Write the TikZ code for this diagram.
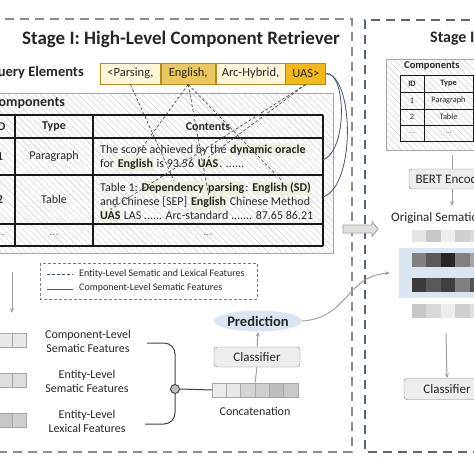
\documentclass[tikz,border=0pt]{standalone}
\usepackage{fontspec}
\setmainfont{Carlito}
\usetikzlibrary{positioning,shapes.geometric,patterns.meta,arrows.meta}
\definecolor{txt}{HTML}{262626}
\definecolor{hlgreen}{HTML}{EBF1DE}
\definecolor{qlight}{HTML}{FFF6DA}
\definecolor{qmid}{HTML}{EAC75F}
\definecolor{qdark}{HTML}{F4B818}
\definecolor{qedge}{HTML}{B08A1E}
\definecolor{predblue}{HTML}{DAE5F1}
\definecolor{slate}{HTML}{44546A}
\definecolor{gline}{HTML}{A0A0A0}
\newcommand{\wsp}{\ \mbox{}}
\tikzset{
	word/.style={anchor=base west, inner xsep=0pt, inner ysep=1.5pt, font=\fontsize{12}{14}\selectfont, text=txt},
	key/.style={word, inner xsep=0.6pt, fill=hlgreen, font=\fontsize{12}{14}\selectfont\bfseries},
	qbox/.style={draw=qedge, line width=0.8pt, minimum height=21pt, inner sep=0pt, font=\fontsize{12.5}{14}\selectfont, text=txt},
	rbox/.style={draw=gray, fill=black!7, rounded corners=3pt, minimum height=20pt, inner sep=0pt, font=\fontsize{13}{15}\selectfont, text=txt},
	hatch/.style={draw=black!35, line width=0.7pt, pattern={Lines[angle=-45,distance=4.5pt,line width=0.4pt]}, pattern color=black!22},
	grid/.style={line width=1.3pt, black!90},
	cell/.style={draw=black!35, line width=0.5pt},
	elink/.style={dash pattern=on 3pt off 2pt, black!70, line width=0.7pt},
	clink/.style={slate, line width=0.8pt},
	garrow/.style={gline, line width=1pt, -{Stealth[length=5pt,width=4pt]}},
	gplain/.style={gline, line width=1pt},
	lbl/.style={align=center, font=\fontsize{12}{14.5}\selectfont, text=txt},
	hdr/.style={font=\fontsize{12}{14}\selectfont\bfseries, text=txt},
	small/.style={font=\fontsize{8.3}{10}\selectfont, text=txt},
}
\begin{document}
\begin{tikzpicture}[x=1pt,y=-1pt]
	\useasboundingbox (0,0) rectangle (474,474);
	\clip (0,0) rectangle (474,474);
	\draw[black!45, line width=2.2pt, dash pattern=on 9pt off 6pt] (-10,19) -- (352,19) -- (352,452) -- (-10,452);
	\draw[slate!90, line width=2.2pt, dash pattern=on 9pt off 6pt] (500,20) -- (365,20) -- (365,452) -- (500,452);
	\node (titleI) at (181,39) [font=\fontsize{19}{22}\selectfont\bfseries, text=txt] {Stage I: High-Level Component Retriever};
	\node (titleII) at (430,39) [anchor=west, inner sep=0pt, font=\fontsize{16}{19}\selectfont\bfseries, text=txt] {Stage II};

	\node (query) at (84,73) [anchor=east, inner sep=0pt, font=\fontsize{14.5}{17}\selectfont\bfseries, text=txt] {Query Elements};
	\node (qParse) at (100,73.5) [qbox, anchor=west, fill=qlight, minimum width=60pt] {<Parsing,};
	\node (qEng) [qbox, right=0pt of qParse, fill=qmid, minimum width=54pt] {English,};
	\node (qArc) [qbox, right=0pt of qEng, fill=qlight, minimum width=69pt] {Arc-Hybrid,};
	\node (qUAS) [qbox, right=0pt of qArc, fill=qdark, minimum width=40pt] {UAS>};

	\draw[hatch] (-5,93) rectangle (333,253);
	\node (compI) at (-9,103) [anchor=west, inner sep=0pt, font=\fontsize{14}{16}\selectfont\bfseries, text=txt] {Components};
	\draw[grid] (-5,115) -- (323,115) (-5,138) -- (323,138) (-5,175) -- (323,175) (-5,224) -- (323,224) (-5,246) -- (323,246);
	\draw[grid] (15,115) -- (15,246) (93,115) -- (93,246) (323,115) -- (323,246);
	\node (hID) at (0,126.5) [hdr] {ID};
	\node (hType) at (54,126.5) [hdr] {Type};
	\node (hCont) at (208,126.5) [hdr] {Contents};
	\node (id1) at (0,156.5) [hdr] {1};
	\node (ty1) at (54,156.5) [lbl] {Paragraph};
	\node (id2) at (0,199.5) [hdr] {2};
	\node (ty2) at (54,199.5) [lbl] {Table};
	\node (id3) at (0,235) [lbl, text=black!50] {...};
	\node (ty3) at (54,235) [lbl, text=black!50] {...};
	\node (co3) at (208,235) [lbl, text=black!50] {...};

	\node (w1a) at (100,153) [word] {The score achieved by the\wsp};
	\node (kOracle) at (w1a.base east) [key] {dynamic oracle};
	\node (w1b) at (100,167) [word] {for\wsp};
	\node (kEngA) at (w1b.base east) [key] {English};
	\node (w1c) at (kEngA.base east) [word] {\ is 93.56\wsp};
	\node (kUasA) at (w1c.base east) [key] {UAS};
	\node (w1d) at (kUasA.base east) [word] {. ......};
	\node (w2a) at (100,191) [word] {Table 1:\wsp};
	\node (kDep) at (w2a.base east) [key] {Dependency\wsp};
	\node (kParse) at (kDep.base east) [key] {parsing};
	\node (w2b) at (kParse.base east) [word] {:\wsp};
	\node (kEngB) at (w2b.base east) [key] {English (SD)};
	\node (w2c) at (100,205) [word] {and Chinese [SEP]\wsp};
	\node (kEngC) at (w2c.base east) [key] {English};
	\node (w2d) at (kEngC.base east) [word] {\ Chinese Method};
	\node (kUasB) at (100,219) [key, inner xsep=0pt] {UAS};
	\node (w2e) at (kUasB.base east) [word] {\ LAS ...... Arc-standard ....... 87.65 86.21};

	\draw[elink] (qParse.south) -- (kDep.north);
	\draw[elink] (qEng.south) -- (kEngA.north);
	\draw[elink] (qEng.south) -- (kEngB.north);
	\draw[elink] (qEng.south) -- (kEngC.north);
	\draw[elink] (qUAS.south) -- (kUasA.north);
	\draw[elink] (qUAS.south) -- (kUasB.north);
	\coordinate (row1) at (323,160);
	\coordinate (row2) at (323,197);
	\draw[clink] (qUAS.east) .. controls (346,72) and (348,150) .. (row1);
	\draw[clink] (qUAS.east) .. controls (354,76) and (356,186) .. (row2);

	\draw[black!50, dash pattern=on 3pt off 2pt, line width=0.7pt] (40,263) rectangle (257,299);
	\coordinate (lgA) at (47,274);
	\coordinate (lgB) at (73,274);
	\coordinate (lgC) at (47,289);
	\coordinate (lgD) at (73,289);
	\draw[clink, dash pattern=on 3pt off 2pt] (lgA) -- (lgB);
	\draw[clink] (lgC) -- (lgD);
	\node (lgE) at (79,274) [anchor=west, inner sep=0pt, font=\fontsize{10}{12}\selectfont, text=txt] {Entity-Level Sematic and Lexical Features};
	\node (lgS) at (79,288) [anchor=west, inner sep=0pt, font=\fontsize{10}{12}\selectfont, text=txt] {Component-Level Sematic Features};

	\coordinate (dn1) at (12,272);
	\coordinate (dn2) at (12,313);
	\draw[garrow] (dn1) -- (dn2);
	\draw[cell, fill=black!9] (-2,333) rectangle (12,347);
	\draw[cell, fill=black!9] (12,333) rectangle (26,347);
	\draw[cell, fill=black!13] (-2,373) rectangle (12,387);
	\draw[cell, fill=black!13] (12,373) rectangle (26,387);
	\draw[cell, fill=black!22] (-2,413) rectangle (12,427);
	\draw[cell, fill=black!19] (12,413) rectangle (26,427);
	\node (fComp) at (88,341.5) [lbl] {Component-Level\\Sematic Features};
	\node (fEnt) at (87,381.5) [lbl] {Entity-Level\\Sematic Features};
	\node (fLex) at (87,421.5) [lbl] {Entity-Level\\Lexical Features};
	\node (join) at (175,389) [circle, draw=black!75, fill=black!25, line width=0.9pt, minimum size=9pt, inner sep=0pt] {};
	\coordinate (brT) at (147,343);
	\coordinate (brB) at (145,424);
	\draw[black!75, line width=1pt, rounded corners=11pt] (brT) -| (join.north);
	\draw[black!75, line width=1pt, rounded corners=11pt] (brB) -| (join.south);
	\node (concat) at (255,390) [minimum width=86pt, minimum height=14pt, inner sep=0pt] {};
	\foreach \g [count=\i from 0] in {8,9,17,19,26,21}
		\draw[cell, fill=black!\g] (212+\i*14.33,383) rectangle ++(14.33,14);
	\draw[black!75, line width=1pt] (join.east) -- (concat.west);
	\node (concatL) at (255,411) [lbl] {Concatenation};
	\node (clsI) at (257,357) [rbox, minimum width=86pt] {Classifier};
	\node (pred) at (258,321) [ellipse, fill=predblue, minimum width=88pt, minimum height=21pt, inner sep=0pt, font=\fontsize{14.5}{17}\selectfont\bfseries, text=txt] {Prediction};
	\draw[gplain] (concat.north) -- (clsI.south);
	\draw[garrow] (clsI.north) -- (pred.south);
	\coordinate (hlIn) at (390,273);
	\draw[garrow] (pred.east) .. controls (348,318) and (346,276) .. (hlIn);
	\draw[gline, fill=black!12, line width=0.8pt] (343,225) -- (372,225) -- (372,221.5) -- (378,229) -- (372,236.5) -- (372,233) -- (343,233) -- cycle;

	\draw[hatch] (386,59) rectangle (520,150);
	\node (compII) at (404,66) [anchor=west, inner sep=0pt, font=\fontsize{10.5}{12}\selectfont\bfseries, text=txt] {Components};
	\draw[grid, line width=1pt] (400,75) -- (520,75) (400,92) -- (520,92) (400,109) -- (520,109) (400,125) -- (520,125) (400,141) -- (520,141);
	\draw[grid, line width=1pt] (400,75) -- (400,141) (424,75) -- (424,141) (473,75) -- (473,141);
	\node (sID) at (412,83.5) [small, font=\fontsize{8.3}{10}\selectfont\bfseries] {ID};
	\node (sType) at (448.5,83.5) [small, font=\fontsize{8.3}{10}\selectfont\bfseries] {Type};
	\node (s1) at (412,100.5) [small] {1};
	\node (sPar) at (448.5,100.5) [small] {Paragraph};
	\node (s2) at (412,117) [small] {2};
	\node (sTab) at (448.5,117) [small] {Table};
	\node (s3) at (412,133) [small, text=black!50] {...};
	\node (sT3) at (448.5,133) [small, text=black!50] {...};
	\coordinate (compOut) at (452,155);
	\node (bert) at (452,179) [rbox, minimum width=86pt] {BERT Encoder};
	\draw[gplain] (compOut) -- (bert.north);
	\coordinate (origIn) at (452,206);
	\draw[garrow] (bert.south) -- (origIn);
	\node (orig) at (391,218) [anchor=west, inner sep=0pt, font=\fontsize{13}{15}\selectfont, text=txt] {Original Sematic Features};
	\fill[predblue] (399,248) rectangle (520,298);
	\foreach \g [count=\i from 0] in {10,22,7,19,14,10,20}
		\fill[black!\g] (412+\i*14.4,230) rectangle ++(14.4,12);
	\foreach \g [count=\i from 0] in {50,65,85,50,35,45,60}
		\fill[black!\g] (412+\i*14.4,253) rectangle ++(14.4,14);
	\foreach \g [count=\i from 0] in {77,65,75,50,67,55,70}
		\fill[black!\g] (412+\i*14.4,278) rectangle ++(14.4,14);
	\foreach \g [count=\i from 0] in {22,15,7,19,12,18,10}
		\fill[black!\g] (412+\i*14.4,304) rectangle ++(14.4,14);
	\coordinate (barsOut) at (446,333);
	\node (clsII) at (447,389) [rbox, minimum width=86pt, minimum height=21pt] {Classifier};
	\draw[garrow] (barsOut) -- (clsII.north);
\end{tikzpicture}
\end{document}
